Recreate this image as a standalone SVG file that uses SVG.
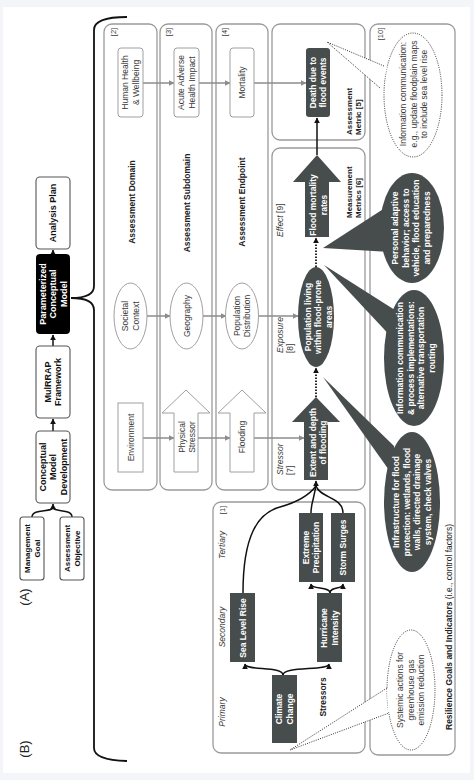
<svg xmlns="http://www.w3.org/2000/svg" width="474" height="780" viewBox="0 0 474 780">
<defs>
<marker id="ab" viewBox="0 0 10 10" refX="9" refY="5" markerWidth="6" markerHeight="6" markerUnits="userSpaceOnUse" orient="auto"><path d="M0,0 L10,5 L0,10 z" fill="#111"/></marker>
<marker id="ag" viewBox="0 0 10 10" refX="9" refY="5" markerWidth="6" markerHeight="6" markerUnits="userSpaceOnUse" orient="auto"><path d="M0,0 L10,5 L0,10 z" fill="#8c8c8c"/></marker>
</defs>
<style>
text{font-family:"Liberation Sans",Arial,sans-serif}
.r{font-size:8.5px;fill:#3a3a3a;text-anchor:middle}
.b{font-size:9px;font-weight:bold;fill:#111;text-anchor:middle}
.w{font-size:8.5px;font-weight:bold;fill:#fff;text-anchor:middle}
.h{font-size:8.5px;font-weight:bold;fill:#222;text-anchor:middle}
.s{text-anchor:start}
.i{font-style:italic}
.panel{fill:#fff;stroke:#9a9a9a;stroke-width:1.3}
.onode{fill:#fff;stroke:#a0a0a0;stroke-width:1}
.dnode{fill:#474d4d}
.anode{fill:#fff;stroke:#555;stroke-width:1.1}
.gc{stroke:#8c8c8c;stroke-width:1.5;fill:none}
.bc{stroke:#111;stroke-width:1.5;fill:none}
.dot{stroke:#111;stroke-width:1.8;fill:none;stroke-dasharray:1.5,1.5}
.bub{fill:#fff;stroke:#333;stroke-width:1;stroke-dasharray:1,1.3}
</style>
<rect x="0" y="0" width="474" height="780" fill="#f4f5f9"/>
<rect x="3" y="7" width="467" height="766" fill="#fff"/>

<g id="labels-AB">
<text transform="translate(24,597) rotate(-90)" style="font-size:13px;fill:#222;text-anchor:middle" y="4.5">(A)</text>
<text transform="translate(24,749) rotate(-90)" style="font-size:13px;fill:#222;text-anchor:middle" y="4.5">(B)</text>
</g>

<path id="brace" d="M127,17 Q94,17 94,30 L94,286 Q94,298 71,298 Q94,298 94,310 L94,748 Q94,760 127,761" fill="none" stroke="#111" stroke-width="1.8"/>

<!-- panels -->
<g id="panels">
<rect class="panel" x="104" y="24" width="53" height="466" rx="8"/>
<rect class="panel" x="160" y="24" width="52" height="466" rx="8"/>
<rect class="panel" x="216" y="24" width="52" height="466" rx="8"/>
<rect class="panel" x="272" y="24" width="93" height="116" rx="8"/>
<rect class="panel" x="272" y="148" width="93" height="342" rx="8"/>
<rect class="panel" x="213" y="502" width="152" height="251" rx="8"/>
<rect class="panel" x="370" y="24" width="85" height="731" rx="8"/>
<text class="r" transform="translate(113,32) rotate(-90)" y="3" style="font-size:7.5px">[2]</text>
<text class="r" transform="translate(168,32) rotate(-90)" y="3" style="font-size:7.5px">[3]</text>
<text class="r" transform="translate(224,32) rotate(-90)" y="3" style="font-size:7.5px">[4]</text>
<text class="r" transform="translate(380,34) rotate(-90)" y="3" style="font-size:7.5px">[10]</text>
<text class="r" transform="translate(222,510) rotate(-90)" y="3" style="font-size:7.5px">[1]</text>
<text class="h" transform="translate(132,202) rotate(-90)" y="3">Assessment Domain</text>
<text class="h" transform="translate(187,203) rotate(-90)" y="3">Assessment Subdomain</text>
<text class="h" transform="translate(242,202) rotate(-90)" y="3">Assessment Endpoint</text>
<text class="h s" transform="translate(349,135) rotate(-90)" style="font-size:8px"><tspan x="0" y="3">Assessment</tspan><tspan x="0" y="12">Metric [5]</tspan></text>
<text class="h s" transform="translate(349,218) rotate(-90)" style="font-size:8px"><tspan x="0" y="3">Measurement</tspan><tspan x="0" y="12">Metrics [6]</tspan></text>
<text class="r s" transform="translate(280,475) rotate(-90)"><tspan x="0" y="3" class="i">Stressor</tspan><tspan x="0" y="13">[7]</tspan></text>
<text class="r s" transform="translate(280,353) rotate(-90)"><tspan x="0" y="3" class="i">Exposure</tspan><tspan x="0" y="13">[8]</tspan></text>
<text class="r s" transform="translate(280,237) rotate(-90)" y="3"><tspan class="i">Effect</tspan> [9]</text>
<text class="r i" transform="translate(222,712) rotate(-90)" y="3">Primary</text>
<text class="r i" transform="translate(222,627) rotate(-90)" y="3">Secondary</text>
<text class="r i" transform="translate(222,545) rotate(-90)" y="3">Tertiary</text>
<text class="h" transform="translate(323,697) rotate(-90)" y="3">Stressors</text>
<text class="h s" transform="translate(449,730) rotate(-90)" y="3">Resilience Goals and Indicators <tspan style="font-weight:normal">(i.e., control factors)</tspan></text>
</g>

<!-- bubbles -->
<g id="bubble-info-maps">
<path class="bub" d="M384,66 L327,42 L380,88" />
<ellipse class="bub" cx="413" cy="95" rx="29" ry="62"/>
<path d="M386,67 L381,87" stroke="#fff" stroke-width="2"/>
<text class="r" transform="translate(413.5,94) rotate(-90)"><tspan x="0" y="-7.5">Information communication:</tspan><tspan x="0" y="3">e.g., update floodplain maps</tspan><tspan x="0" y="13.5">to include sea level rise</tspan></text>
</g>
<g id="bubble-personal">
<polygon class="dnode" points="323,248 388,206 390,252"/>
<ellipse class="dnode" cx="412" cy="228" rx="32" ry="55"/>
<text class="w" transform="translate(411,228) rotate(-90)"><tspan x="0" y="-12.75">Personal adaptive</tspan><tspan x="0" y="-2.25">behavior; access to</tspan><tspan x="0" y="8.25">vehicle, flood education</tspan><tspan x="0" y="18.75">and preparedness</tspan></text>
</g>
<g id="bubble-info-process">
<polygon class="dnode" points="324,265 398,312 396,342"/>
<ellipse class="dnode" cx="414" cy="358" rx="30" ry="68"/>
<text class="w" transform="translate(416,358) rotate(-90)"><tspan x="0" y="-12.75">Information communication</tspan><tspan x="0" y="-2.25">&amp; process implementations:</tspan><tspan x="0" y="8.25">alternative transportation</tspan><tspan x="0" y="18.75">routing</tspan></text>
</g>
<g id="bubble-infrastructure">
<polygon class="dnode" points="323,377 394,446 396,480"/>
<ellipse class="dnode" cx="412" cy="502" rx="28" ry="70"/>
<text class="w" transform="translate(412,502) rotate(-90)"><tspan x="0" y="-12.75">Infrastructure for flood</tspan><tspan x="0" y="-2.25">protection: wetlands, flood</tspan><tspan x="0" y="8.25">walls, directed drainage</tspan><tspan x="0" y="18.75">system, check valves</tspan></text>
</g>
<g id="bubble-systemic">
<path class="bub" d="M387,688 L290,750 L389,713"/>
<ellipse class="bub" cx="411" cy="690" rx="24" ry="60"/>
<path d="M388,689 L389,712" stroke="#fff" stroke-width="2"/>
<text class="r" transform="translate(410.5,690) rotate(-90)"><tspan x="0" y="-7.5">Systemic actions for</tspan><tspan x="0" y="3">greenhouse gas</tspan><tspan x="0" y="13.5">emission reduction</tspan></text>
</g>

<!-- connectors -->
<g id="connectors">
<path class="gc" marker-end="url(#ag)" d="M143,83 L174,83"/>
<path class="gc" marker-end="url(#ag)" d="M199,83 L230,83"/>
<path class="gc" marker-end="url(#ag)" d="M254,83 L306,83"/>
<path class="gc" marker-end="url(#ag)" d="M147,316 L170,316"/>
<path class="gc" marker-end="url(#ag)" d="M203,316 L226,316"/>
<path class="gc" marker-end="url(#ag)" d="M258,316 L298,316"/>
<path class="gc" marker-end="url(#ag)" d="M143,438 L174,438"/>
<path class="gc" marker-end="url(#ag)" d="M198,438 L230,438"/>
<path class="gc" marker-end="url(#ag)" d="M254,438 L304,438"/>
<path class="bc" marker-end="url(#ab)" d="M317,155 L317,118"/>
<path class="dot" marker-end="url(#ab)" d="M316,397 L316,368"/>
<path class="dot" marker-end="url(#ab)" d="M316,267 L316,238"/>
<path class="bc" marker-end="url(#ab)" d="M283,675 C283,666 245,671 245,664"/>
<path class="bc" marker-end="url(#ab)" d="M283,675 C283,666 329,671 329,664"/>
<path class="bc" marker-end="url(#ab)" d="M330,593 C330,586 311,590 311,584"/>
<path class="bc" marker-end="url(#ab)" d="M330,593 C330,586 343,590 343,584"/>
<path class="bc" d="M243,593 C243,535 258,513 280,507 C298,502 310,494 316,486"/>
<path class="bc" d="M343,513 C343,497 320,498 316,486"/>
<path class="bc" marker-end="url(#ab)" d="M311,513 C311,500 316,496 316,481"/>
<path class="bc" marker-end="url(#ab)" d="M53,256 L53,250"/>
<path class="bc" marker-end="url(#ab)" d="M53,346 L53,335"/>
<path class="bc" marker-end="url(#ab)" d="M53,431 L53,419"/>
<path class="bc" d="M32,517 C32,508 53,513 53,507"/>
<path class="bc" d="M72,517 C72,508 53,513 53,507"/>
<path class="bc" marker-end="url(#ab)" d="M53,508 L53,504"/>
</g>

<!-- panel A nodes -->
<g id="analysis-plan"><rect class="anode" x="36" y="177" width="34" height="72" rx="4"/><text class="b" transform="translate(53,213) rotate(-90)" y="3.2">Analysis Plan</text></g>
<g id="parameterized"><rect x="36" y="254" width="34" height="80" rx="4" fill="#000"/><text class="b" transform="translate(53,294) rotate(-90)" style="fill:#fff"><tspan x="0" y="-7.3">Parameterized</tspan><tspan x="0" y="3.2">Conceptual</tspan><tspan x="0" y="13.7">Model</tspan></text></g>
<g id="mulrrap"><rect class="anode" x="36" y="346" width="34" height="72" rx="4"/><text class="b" transform="translate(53,382) rotate(-90)"><tspan x="0" y="-2.05">MulRRAP</tspan><tspan x="0" y="8.45">Framework</tspan></text></g>
<g id="conceptual"><rect class="anode" x="36" y="431" width="34" height="72" rx="4"/><text class="b" transform="translate(53,467) rotate(-90)"><tspan x="0" y="-7.3">Conceptual</tspan><tspan x="0" y="3.2">Model</tspan><tspan x="0" y="13.7">Development</tspan></text></g>
<g id="management-goal"><rect class="anode" x="20" y="517" width="24" height="63" rx="3"/><text class="b" transform="translate(32,548.5) rotate(-90)" style="font-size:8px"><tspan x="0" y="-1.7">Management</tspan><tspan x="0" y="7.5">Goal</tspan></text></g>
<g id="assessment-objective"><rect class="anode" x="60" y="517" width="24" height="63" rx="3"/><text class="b" transform="translate(72,548.5) rotate(-90)" style="font-size:8px"><tspan x="0" y="-1.7">Assessment</tspan><tspan x="0" y="7.5">Objective</tspan></text></g>

<!-- panel B nodes -->
<g id="human-health"><rect class="onode" x="118" y="48" width="25" height="69" rx="3"/><text class="r" transform="translate(130.5,82.5) rotate(-90)"><tspan x="0" y="-2.25">Human Health</tspan><tspan x="0" y="8.25">&amp; Wellbeing</tspan></text></g>
<g id="acute"><rect class="onode" x="174" y="48" width="25" height="69" rx="3"/><text class="r" transform="translate(186.5,82.5) rotate(-90)"><tspan x="0" y="-2.25">Acute Adverse</tspan><tspan x="0" y="8.25">Health Impact</tspan></text></g>
<g id="mortality"><rect class="onode" x="230" y="48" width="24" height="69" rx="3"/><text class="r" transform="translate(242,82.5) rotate(-90)" y="3">Mortality</text></g>
<g id="death"><rect class="dnode" x="306" y="48" width="24" height="69" rx="3"/><text class="w" transform="translate(318,82.5) rotate(-90)"><tspan x="0" y="-2.25">Death due to</tspan><tspan x="0" y="8.25">flood events</tspan></text></g>

<g id="societal"><ellipse class="onode" cx="130.5" cy="316" rx="16.5" ry="33"/><text class="r" transform="translate(130.5,316) rotate(-90)"><tspan x="0" y="-2.25">Societal</tspan><tspan x="0" y="8.25">Context</tspan></text></g>
<g id="geography"><ellipse class="onode" cx="186.5" cy="316" rx="16.5" ry="33"/><text class="r" transform="translate(186.5,316) rotate(-90)" y="3">Geography</text></g>
<g id="population-distribution"><ellipse class="onode" cx="242" cy="316" rx="16.5" ry="33"/><text class="r" transform="translate(242,316) rotate(-90)"><tspan x="0" y="-2.25">Population</tspan><tspan x="0" y="8.25">Distribution</tspan></text></g>
<g id="population-living"><ellipse class="dnode" cx="316" cy="317" rx="18" ry="50"/><text class="w" transform="translate(318,317) rotate(-90)"><tspan x="0" y="-7.5">Population living</tspan><tspan x="0" y="3">within flood-prone</tspan><tspan x="0" y="13.5">areas</tspan></text></g>

<g id="environment"><rect class="onode" x="118" y="403" width="25" height="69"/><text class="r" transform="translate(130.5,437.5) rotate(-90)" y="3">Environment</text></g>
<g id="physical-stressor"><polygon class="onode" points="174,472 174,413 162,413 186,390 210,413 198,413 198,472"/><text class="r" transform="translate(187,437) rotate(-90)"><tspan x="0" y="-2.25">Physical</tspan><tspan x="0" y="8.25">Stressor</tspan></text></g>
<g id="flooding"><polygon class="onode" points="230,472 230,413 218,413 242,390 266,413 254,413 254,472"/><text class="r" transform="translate(242,437) rotate(-90)" y="3">Flooding</text></g>
<g id="extent"><polygon class="dnode" points="304,480 304,422 292,422 316,397 340,422 328,422 328,480"/><text class="w" transform="translate(318,442.5) rotate(-90)"><tspan x="0" y="-2.25">Extent and depth</tspan><tspan x="0" y="8.25">of flooding</tspan></text></g>
<g id="flood-mortality"><polygon class="dnode" points="305,237 305,182 293,182 317,155 341,182 329,182 329,237"/><text class="w" transform="translate(318.5,205) rotate(-90)"><tspan x="0" y="-2.25">Flood mortality</tspan><tspan x="0" y="8.25">rates</tspan></text></g>

<g id="climate-change"><rect class="dnode" x="272" y="675" width="25" height="68"/><text class="w" transform="translate(284.5,709) rotate(-90)"><tspan x="0" y="-2.25">Climate</tspan><tspan x="0" y="8.25">Change</tspan></text></g>
<g id="sea-level-rise"><rect class="dnode" x="230" y="593" width="25" height="69"/><text class="w" transform="translate(242.5,628) rotate(-90)" y="3">Sea Level Rise</text></g>
<g id="hurricane"><rect class="dnode" x="317" y="593" width="25" height="69"/><text class="w" transform="translate(329.5,628) rotate(-90)"><tspan x="0" y="-2.25">Hurricane</tspan><tspan x="0" y="8.25">Intensity</tspan></text></g>
<g id="extreme-precipitation"><rect class="dnode" x="299" y="513" width="24" height="69"/><text class="w" transform="translate(311,547.5) rotate(-90)"><tspan x="0" y="-2.25">Extreme</tspan><tspan x="0" y="8.25">Precipitation</tspan></text></g>
<g id="storm-surges"><rect class="dnode" x="331" y="513" width="24" height="69"/><text class="w" transform="translate(343,547.5) rotate(-90)" y="3">Storm Surges</text></g>
</svg>
